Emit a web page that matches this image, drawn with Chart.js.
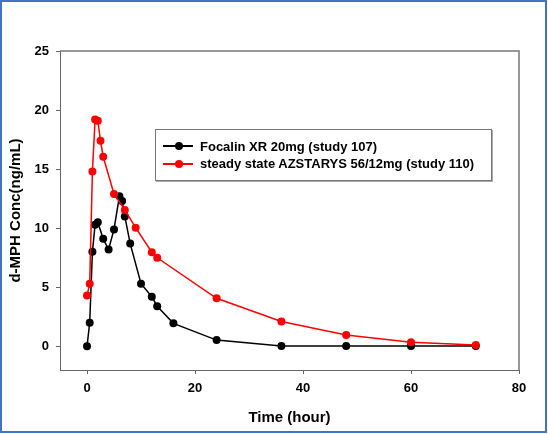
<!DOCTYPE html>
<html>
<head>
<meta charset="utf-8">
<script src="https://cdn.jsdelivr.net/npm/chart.js@4"></script>
<style>
  body { margin: 0; background: #fff; }
  #wrap { position: relative; width: 548px; height: 434px; }
  #frame { position: absolute; left: 0; top: 0; width: 543px; height: 429px; border: 2px solid #4472C4; pointer-events: none; }
  #legend {
    position: absolute; left: 155px; top: 129px; width: 335px; height: 50px;
    border: 1px solid #777; box-shadow: 1px 1px 0 #aaa; background: #fff;
    font: bold 13px "Liberation Sans", Arial, sans-serif; color: #000;
  }
  .item { position: absolute; left: 7px; height: 16px; display: flex; align-items: center; white-space: nowrap; }
  .swatch { position: relative; width: 30px; height: 2px; margin-right: 7px; }
  .swatch i { position: absolute; left: 12px; top: -3px; width: 8px; height: 8px; border-radius: 50%; }
</style>
</head>
<body>
<div id="wrap">
  <canvas id="grafico" width="548" height="434"></canvas>
  <div id="legend"></div>
  <div id="frame"></div>
</div>
<script>
// Datos
const nombresSeries = ['Focalin XR 20mg (study 107)', 'steady state AZSTARYS 56/12mg (study 110)'];
const coloresSeries = ['#000000', '#FF0000'];

const tiempoFocalin = [0, 0.5, 1, 1.5, 2, 3, 4, 5, 6, 6.5, 7, 8, 10, 12, 13, 16, 24, 36, 48, 60, 72];
const concFocalin = [0, 2.0, 8.0, 10.3, 10.5, 9.1, 8.2, 9.9, 12.7, 12.3, 11.0, 8.7, 5.3, 4.2, 3.4, 1.95, 0.53, 0.03, 0.03, 0.03, 0.03];

const tiempoAzstarys = [0, 0.5, 1, 1.5, 2, 2.5, 3, 5, 7, 9, 12, 13, 24, 36, 48, 60, 72];
const concAzstarys = [4.3, 5.3, 14.8, 19.2, 19.1, 17.4, 16.05, 12.9, 11.55, 10.05, 7.97, 7.5, 4.07, 2.1, 0.97, 0.34, 0.11];

const FUENTE = '"Liberation Sans", Arial, sans-serif';

const aPuntos = (xs, ys) => xs.map((x, i) => ({ x: x, y: ys[i] }));

// Marco superior y derecho del área de trazado
const marcoPlugin = {
    id: 'marco',
    beforeDatasetsDraw(chart) {
        const { ctx, chartArea } = chart;
        ctx.save();
        ctx.strokeStyle = '#777';
        ctx.lineWidth = 1.5;
        ctx.beginPath();
        ctx.moveTo(chartArea.left, chartArea.top);
        ctx.lineTo(chartArea.right, chartArea.top);
        ctx.lineTo(chartArea.right, chartArea.bottom);
        ctx.stroke();
        ctx.restore();
    }
};

const graficoConcentracion = () => {
    const ctx = document.getElementById('grafico').getContext('2d');
    new Chart(ctx, {
        type: 'line',
        data: {
            datasets: [
                {
                    label: nombresSeries[0],
                    data: aPuntos(tiempoFocalin, concFocalin),
                    borderColor: coloresSeries[0],
                    backgroundColor: coloresSeries[0],
                    borderWidth: 1.5,
                    pointRadius: 4,
                    pointBorderWidth: 0,
                    order: 1
                },
                {
                    label: nombresSeries[1],
                    data: aPuntos(tiempoAzstarys, concAzstarys),
                    borderColor: coloresSeries[1],
                    backgroundColor: coloresSeries[1],
                    borderWidth: 1.5,
                    pointRadius: 4,
                    pointBorderWidth: 0,
                    order: 0
                }
            ]
        },
        options: {
            responsive: false,
            animation: false,
            layout: { padding: { top: 51, right: 29, left: 0, bottom: 0 } },
            scales: {
                x: {
                    type: 'linear',
                    min: -5,
                    max: 80,
                    afterFit: (scale) => { scale.height = 64; },
                    grid: { drawOnChartArea: false, drawTicks: true, tickLength: 4, color: '#666' },
                    border: { color: '#666', width: 1 },
                    ticks: { stepSize: 20, includeBounds: false, padding: 7, color: '#000', font: { family: FUENTE, size: 13, weight: 'bold' } },
                    title: { display: true, text: 'Time (hour)', color: '#000', padding: { top: 0, bottom: 7 }, font: { family: FUENTE, size: 15, weight: 'bold' } }
                },
                y: {
                    min: -2,
                    max: 25,
                    afterFit: (scale) => { scale.width = 60; },
                    grid: { drawOnChartArea: false, drawTicks: true, tickLength: 4, color: '#666' },
                    border: { color: '#666', width: 1 },
                    ticks: { stepSize: 5, includeBounds: false, padding: 7, color: '#000', font: { family: FUENTE, size: 13, weight: 'bold' } },
                    title: { display: true, text: 'd-MPH Conc(ng/mL)', color: '#000', padding: { top: 7, bottom: 0 }, font: { family: FUENTE, size: 15, weight: 'bold' } }
                }
            },
            plugins: {
                legend: { display: false },
                tooltip: { enabled: false }
            }
        },
        plugins: [marcoPlugin]
    });
};

// Leyenda en recuadro dentro del área de trazado
const leyenda = () => {
    const caja = document.getElementById('legend');
    nombresSeries.forEach((nombre, i) => {
        const fila = document.createElement('div');
        fila.className = 'item';
        fila.style.top = (8 + i * 17.5) + 'px';
        const muestra = document.createElement('span');
        muestra.className = 'swatch';
        muestra.style.background = coloresSeries[i];
        const punto = document.createElement('i');
        punto.style.background = coloresSeries[i];
        muestra.appendChild(punto);
        const texto = document.createElement('span');
        texto.textContent = nombre;
        fila.appendChild(muestra);
        fila.appendChild(texto);
        caja.appendChild(fila);
    });
};

graficoConcentracion();
leyenda();
</script>
</body>
</html>
